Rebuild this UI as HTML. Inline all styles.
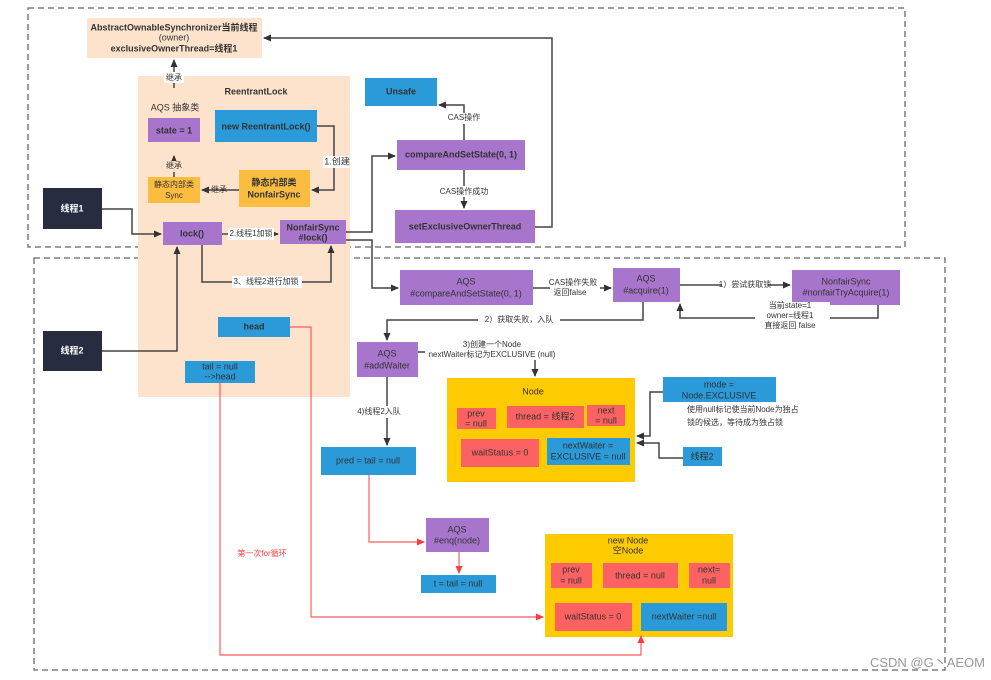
<!DOCTYPE html>
<html><head><meta charset="utf-8"><style>
html,body{margin:0;padding:0;background:#fff;}
svg{display:block;font-family:"Liberation Sans","Noto Sans CJK SC",sans-serif;}
.t{font-size:9px;fill:#333;text-anchor:middle;dominant-baseline:middle;}
.b{font-weight:bold;}
.w{fill:#fff;}
.r{fill:#ff3b3b;}
.ln{stroke:#444;stroke-width:1.5;fill:none;}
.rl{stroke:#ff5a5a;stroke-width:1.2;fill:none;}
.lb{fill:#fff;}
</style></head><body>
<svg width="991" height="680" viewBox="0 0 991 680">
<defs>
<marker id="a" markerWidth="8" markerHeight="8" refX="7" refY="4" orient="auto" markerUnits="userSpaceOnUse"><path d="M0,0.5 L8,4 L0,7.5 Z" fill="#333"/></marker>
<marker id="ar" markerWidth="8" markerHeight="8" refX="7" refY="4" orient="auto" markerUnits="userSpaceOnUse"><path d="M0,0.5 L8,4 L0,7.5 Z" fill="#ff3b3b"/></marker>
</defs>
<rect x="28" y="8" width="877" height="239" fill="none" stroke="#666" stroke-width="1.3" stroke-dasharray="6,4"/>
<rect x="34" y="258" width="911" height="412" fill="none" stroke="#666" stroke-width="1.3" stroke-dasharray="6,4"/>

<!-- ReentrantLock bg -->
<rect x="138" y="76" width="212" height="321" fill="#fde3cc"/>
<text class="t b" x="256" y="92">ReentrantLock</text>
<text class="t" x="175" y="108">AQS 抽象类</text>

<rect x="87" y="18" width="175" height="40" fill="#fde3cc"/>
<text class="t b" x="174" y="28">AbstractOwnableSynchronizer当前线程</text>
<text class="t" x="174" y="38">(owner)</text>
<text class="t b" x="174" y="49">exclusiveOwnerThread=线程1</text>

<rect x="148" y="118" width="52" height="24" fill="#a875cc"/>
<text class="t b" x="174" y="131">state = 1</text>
<rect x="215" y="110" width="102" height="32" fill="#2a9ad9"/>
<text class="t b" x="266" y="127">new ReentrantLock()</text>
<rect x="239" y="170" width="71" height="37" fill="#fbbd3f"/>
<text class="t b" x="274" y="183">静态内部类</text>
<text class="t b" x="274" y="195">NonfairSync</text>
<rect x="148" y="177" width="52" height="26" fill="#fbbd3f"/>
<text class="t" x="174" y="185" style="font-size:8px">静态内部类</text>
<text class="t" x="174" y="196" style="font-size:8px">Sync</text>

<polyline class="ln" points="317,126 334,126 334,190 312,190" marker-end="url(#a)"/>
<rect x="323" y="156" width="26" height="12" class="lb" fill="#fff"/>
<text class="t" x="337" y="162">1.创建</text>
<line class="ln" x1="239" y1="190" x2="202" y2="190" marker-end="url(#a)"/>
<text class="t" x="219" y="190" style="font-size:8px">继承</text>
<line class="ln" x1="174" y1="177" x2="174" y2="156" marker-end="url(#a)"/>
<rect x="164" y="161" width="20" height="11" fill="#fde3cc"/>
<text class="t" x="174" y="166" style="font-size:8px">继承</text>
<line class="ln" x1="174" y1="88" x2="174" y2="60" marker-end="url(#a)"/>
<rect x="164" y="72" width="20" height="11" fill="#fff"/>
<text class="t" x="174" y="78" style="font-size:8px">继承</text>

<rect x="43" y="188" width="59" height="41" fill="#272c40"/>
<text class="t b w" x="72" y="209">线程1</text>
<rect x="43" y="331" width="59" height="40" fill="#272c40"/>
<text class="t b w" x="72" y="351">线程2</text>

<rect x="163" y="222" width="59" height="23" fill="#a875cc"/>
<text class="t b" x="192" y="234">lock()</text>
<rect x="280" y="220" width="66" height="24" fill="#a875cc"/>
<text class="t b" x="313" y="228">NonfairSync</text>
<text class="t b" x="313" y="238">#lock()</text>

<polyline class="ln" points="102,209 132,209 132,234 161,234" marker-end="url(#a)"/>
<line class="ln" x1="222" y1="234" x2="278" y2="234" marker-end="url(#a)"/>
<rect x="228" y="228" width="46" height="12" fill="#fff"/>
<text class="t" x="251" y="234" style="font-size:8px">2.线程1加锁</text>
<polyline class="ln" points="102,351 177,351 177,247" marker-end="url(#a)"/>
<polyline class="ln" points="202,245 202,282 331,282 331,246" marker-end="url(#a)"/>
<rect x="232" y="276" width="70" height="12" fill="#fff"/>
<text class="t" x="266" y="282" style="font-size:8px">3、线程2进行加锁</text>

<!-- top right -->
<rect x="365" y="78" width="72" height="28" fill="#2a9ad9"/>
<text class="t b" x="401" y="92">Unsafe</text>
<rect x="397" y="140" width="128" height="30" fill="#a875cc"/>
<text class="t b" x="461" y="155">compareAndSetState(0, 1)</text>
<rect x="395" y="210" width="140" height="33" fill="#a875cc"/>
<text class="t b" x="465" y="227">setExclusiveOwnerThread</text>
<polyline class="ln" points="346,232 372,232 372,156 395,156" marker-end="url(#a)"/>
<polyline class="ln" points="464,140 464,105 439,105" marker-end="url(#a)"/>
<rect x="448" y="113" width="32" height="11" fill="#fff"/>
<text class="t" x="464" y="118" style="font-size:8px">CAS操作</text>
<line class="ln" x1="464" y1="170" x2="464" y2="208" marker-end="url(#a)"/>
<rect x="440" y="186" width="48" height="11" fill="#fff"/>
<text class="t" x="464" y="192" style="font-size:8px">CAS操作成功</text>
<polyline class="ln" points="535,227 552,227 552,38 264,38" marker-end="url(#a)"/>

<!-- bottom flow -->
<polyline class="ln" points="346,240 372,240 372,288 398,288" marker-end="url(#a)"/>
<rect x="400" y="270" width="133" height="35" fill="#a875cc"/>
<text class="t" x="466" y="282">AQS</text>
<text class="t" x="466" y="294">#compareAndSetState(0, 1)</text>
<line class="ln" x1="533" y1="288" x2="611" y2="288" marker-end="url(#a)"/>
<rect x="550" y="279" width="50" height="20" fill="#fff"/>
<text class="t" x="573" y="283" style="font-size:8px">CAS操作失败</text>
<text class="t" x="570" y="293" style="font-size:8px">返回false</text>
<rect x="613" y="268" width="67" height="34" fill="#a875cc"/>
<text class="t" x="646" y="279">AQS</text>
<text class="t" x="646" y="291">#acquire(1)</text>
<line class="ln" x1="680" y1="285" x2="790" y2="285" marker-end="url(#a)"/>
<rect x="722" y="279" width="46" height="12" fill="#fff"/>
<text class="t" x="745" y="285" style="font-size:8px">1）尝试获取锁</text>
<rect x="792" y="270" width="108" height="35" fill="#a875cc"/>
<text class="t" x="846" y="282">NonfairSync</text>
<text class="t" x="846" y="293">#nonfairTryAcquire(1)</text>
<polyline class="ln" points="878,305 878,318 680,318 680,304" marker-end="url(#a)"/>
<rect x="755" y="302" width="75" height="30" fill="#fff"/>
<text class="t" x="790" y="306" style="font-size:8px">当前state=1</text>
<text class="t" x="790" y="316" style="font-size:8px">owner=线程1</text>
<text class="t" x="790" y="326" style="font-size:8px">直接返回 false</text>
<polyline class="ln" points="643,302 643,320 387,320 387,340" marker-end="url(#a)"/>
<rect x="478" y="314" width="82" height="12" fill="#fff"/>
<text class="t" x="519" y="320" style="font-size:8px">2）获取失败，入队</text>
<rect x="357" y="342" width="61" height="35" fill="#a875cc"/>
<text class="t" x="387" y="354">AQS</text>
<text class="t" x="387" y="366">#addWaiter</text>
<polyline class="ln" points="418,352 535,352 535,376" marker-end="url(#a)"/>
<rect x="425" y="338" width="135" height="22" fill="#fff"/>
<text class="t" x="492" y="345" style="font-size:8px">3)创建一个Node</text>
<text class="t" x="492" y="355" style="font-size:8px">nextWaiter标记为EXCLUSIVE (null)</text>

<rect x="447" y="378" width="188" height="104" fill="#fecb00"/>
<text class="t" x="533" y="392">Node</text>
<rect x="457" y="408" width="39" height="21" fill="#fd6262"/>
<text class="t" x="476" y="414">prev</text><text class="t" x="476" y="424">= null</text>
<rect x="507" y="406" width="77" height="22" fill="#fd6262"/>
<text class="t" x="545" y="417">thread = 线程2</text>
<rect x="587" y="405" width="38" height="21" fill="#fd6262"/>
<text class="t" x="606" y="411">next</text><text class="t" x="606" y="421">= null</text>
<rect x="461" y="439" width="78" height="28" fill="#fd6262"/>
<text class="t" x="500" y="453">waitStatus = 0</text>
<rect x="547" y="438" width="83" height="27" fill="#2a9ad9"/>
<text class="t" x="588" y="446">nextWaiter =</text><text class="t" x="588" y="457">EXCLUSIVE = null</text>

<rect x="663" y="377" width="113" height="25" fill="#2a9ad9"/>
<text class="t" x="719" y="385">mode =</text><text class="t" x="719" y="396">Node.EXCLUSIVE</text>
<polyline class="ln" points="663,392 650,392 650,436 637,436" marker-end="url(#a)"/>
<text class="t" x="687" y="410" style="text-anchor:start;font-size:8px">使用null标记使当前Node为独占</text>
<text class="t" x="687" y="423" style="text-anchor:start;font-size:8px">锁的候选，等待成为独占锁</text>
<rect x="683" y="447" width="39" height="19" fill="#2a9ad9"/>
<text class="t" x="702" y="457">线程2</text>
<polyline class="ln" points="683,458 659,458 659,443 637,443" marker-end="url(#a)"/>

<line class="ln" x1="387" y1="377" x2="387" y2="445" marker-end="url(#a)"/>
<rect x="357" y="406" width="44" height="12" fill="#fff"/>
<text class="t" x="379" y="412" style="font-size:8px">4)线程2入队</text>
<rect x="321" y="447" width="95" height="28" fill="#2a9ad9"/>
<text class="t" x="368" y="461">pred = tail = null</text>

<polyline class="rl" points="369,475 369,542 424,542" marker-end="url(#ar)"/>
<rect x="426" y="518" width="63" height="34" fill="#a875cc"/>
<text class="t" x="457" y="530">AQS</text><text class="t" x="457" y="541">#enq(node)</text>
<line class="rl" x1="459" y1="552" x2="459" y2="573" marker-end="url(#ar)"/>
<rect x="421" y="575" width="75" height="18" fill="#2a9ad9"/>
<text class="t" x="458" y="584">t = tail = null</text>

<rect x="545" y="534" width="188" height="103" fill="#fecb00"/>
<text class="t" x="628" y="541">new Node</text><text class="t" x="628" y="551">空Node</text>
<rect x="551" y="563" width="41" height="25" fill="#fd6262"/>
<text class="t" x="571" y="570">prev</text><text class="t" x="571" y="581">= null</text>
<rect x="603" y="563" width="75" height="25" fill="#fd6262"/>
<text class="t" x="640" y="576">thread = null</text>
<rect x="689" y="563" width="41" height="25" fill="#fd6262"/>
<text class="t" x="709" y="570">next=</text><text class="t" x="709" y="581">null</text>
<rect x="555" y="603" width="77" height="28" fill="#fd6262"/>
<text class="t" x="593" y="617">waitStatus = 0</text>
<rect x="641" y="603" width="86" height="28" fill="#2a9ad9"/>
<text class="t" x="684" y="617">nextWaiter =null</text>

<rect x="218" y="317" width="72" height="20" fill="#2a9ad9"/>
<text class="t b" x="254" y="327">head</text>
<rect x="185" y="361" width="70" height="22" fill="#2a9ad9"/>
<text class="t" x="220" y="367">tail = null</text><text class="t" x="220" y="377">--&gt;head</text>
<polyline class="rl" points="290,327 311,327 311,617 543,617" marker-end="url(#ar)"/>
<polyline class="rl" points="220,383 220,655 641,655 641,636" marker-end="url(#ar)"/>
<text class="t r" x="262" y="554" style="font-size:8px">第一次for循环</text>

<text x="985" y="667" style="font-size:13px;fill:#999;text-anchor:end">CSDN @G丶AEOM</text>
</svg>
</body></html>
